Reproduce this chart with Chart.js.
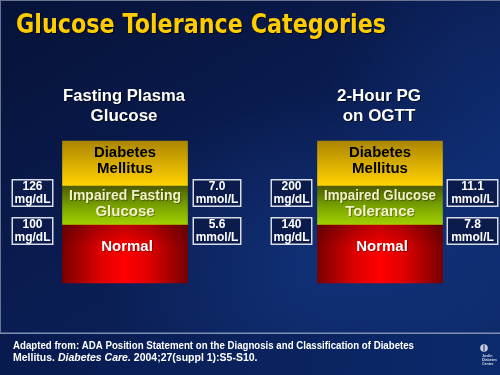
<!DOCTYPE html>
<html><head><meta charset="utf-8">
<script src="https://cdn.jsdelivr.net/npm/chart.js@4/dist/chart.umd.min.js"></script>
<style>
html,body{margin:0;padding:0;width:500px;height:375px;overflow:hidden;background:#0a1a4a;}
#wrap{position:relative;width:500px;height:375px;
background:
 radial-gradient(ellipse 230px 170px at 330px 260px, rgba(22,62,145,0.55), rgba(22,62,145,0) 100%),
 radial-gradient(ellipse 180px 260px at 500px 150px, rgba(18,55,135,0.55), rgba(18,55,135,0)),
 linear-gradient(150deg,#061238 0%,#0a1c50 45%,#0d2865 100%);
}
canvas{position:absolute;left:0;top:0;}
</style></head>
<body><div id="wrap"><canvas id="c" width="500" height="375"></canvas></div>
<script>
// ---- data ----
const categories = ['Fasting Plasma Glucose', '2-Hour PG on OGTT'];
const categoryTitles = [['Fasting Plasma', 'Glucose'], ['2-Hour PG', 'on OGTT']];
const normalBand = [58, 58];
const impairedBand = [39, 39];
const diabetesBand = [45, 45];
const normalLabels = [['Normal'], ['Normal']];
const impairedLabels = [['Impaired Fasting', 'Glucose'], ['Impaired Glucose', 'Tolerance']];
const diabetesLabels = [['Diabetes', 'Mellitus'], ['Diabetes', 'Mellitus']];
const upperMg = ['126', '200'];
const lowerMg = ['100', '140'];
const upperMmol = ['7.0', '11.1'];
const lowerMmol = ['5.6', '7.8'];
const mgUnit = 'mg/dL';
const mmolUnit = 'mmol/L';
const titleText = 'Glucose Tolerance Categories';
const sourceLine1 = 'Adapted from: ADA Position Statement on the Diagnosis and Classification of Diabetes';
const sourceLine2 = ['Mellitus. ', 'Diabetes Care.', ' 2004;27(suppl 1):S5-S10.'];
const logoLines = ['Joslin', 'Diabetes', 'Center'];

const BAR_W = 125;
const SANS = '"Liberation Sans", Arial, sans-serif';

function bandRange(kind, i) {
  if (kind === 0) return [0, normalBand[i]];
  if (kind === 1) return [normalBand[i], normalBand[i] + impairedBand[i]];
  return [normalBand[i] + impairedBand[i], normalBand[i] + impairedBand[i] + diabetesBand[i]];
}

function bandFill(context, kind) {
  const chart = context.chart;
  const x = chart.scales.x, y = chart.scales.y;
  if (!x || !y || context.dataIndex === undefined || !isFinite(x.left)) return '#800';
  const c = chart.ctx;
  const cx = x.getPixelForValue(context.dataIndex);
  const r = bandRange(kind, context.dataIndex);
  const yb = y.getPixelForValue(r[0]), yt = y.getPixelForValue(r[1]);
  let g;
  if (kind === 0) {
    g = c.createLinearGradient(cx - BAR_W / 2, 0, cx + BAR_W / 2, 0);
    g.addColorStop(0, '#7a0000');
    g.addColorStop(0.3, '#dd0000');
    g.addColorStop(0.5, '#ff0000');
    g.addColorStop(0.7, '#dd0000');
    g.addColorStop(1, '#780000');
  } else if (kind === 1) {
    g = c.createLinearGradient(0, yt, 0, yb);
    g.addColorStop(0, '#4c5c00');
    g.addColorStop(0.5, '#78a000');
    g.addColorStop(1, '#a2d200');
  } else {
    g = c.createLinearGradient(0, yt, 0, yb);
    g.addColorStop(0, '#aa8600');
    g.addColorStop(0.55, '#dcb000');
    g.addColorStop(1, '#ffd400');
  }
  return g;
}

function lines(ctx, arr, cx, cy, lh, maxW) {
  const n = arr.length;
  arr.forEach((t, k) => ctx.fillText(t, cx, cy + (k - (n - 1) / 2) * lh, maxW));
}

const decorPlugin = {
  id: 'decor',
  beforeDraw(chart) {
    const c = chart.ctx;
    c.save();
    const fg = c.createLinearGradient(0, 333, 500, 375);
    fg.addColorStop(0, '#081a4e');
    fg.addColorStop(1, '#0c2a6c');
    c.fillStyle = fg;
    c.fillRect(0, 333, 500, 42);
    c.fillStyle = '#7f8fb4';
    c.fillRect(0, 332.5, 500, 1.5);
    c.fillStyle = '#6a7390';
    c.fillRect(0, 0, 500, 1);
    c.fillRect(0, 0, 1, 333);
    c.restore();
  },
  afterDatasetsDraw(chart) {
    const c = chart.ctx;
    const x = chart.scales.x, y = chart.scales.y;
    c.save();
    categories.forEach((_, i) => {
      const cx = x.getPixelForValue(i);
      const r = bandRange(0, i);
      const yt = y.getPixelForValue(r[1]);
      const g = c.createLinearGradient(0, yt, 0, yt + 22);
      g.addColorStop(0, 'rgba(60,0,0,0.35)');
      g.addColorStop(1, 'rgba(60,0,0,0)');
      c.fillStyle = g;
      c.fillRect(cx - BAR_W / 2, yt, BAR_W, 22);
    });
    c.textAlign = 'center';
    c.textBaseline = 'middle';
    categories.forEach((_, i) => {
      const cx = x.getPixelForValue(i);
      let r = bandRange(2, i);
      let mid = (y.getPixelForValue(r[0]) + y.getPixelForValue(r[1])) / 2;
      c.fillStyle = '#000000';
      c.font = 'bold 15px ' + SANS;
      lines(c, diabetesLabels[i], cx, mid - 2.5, 16, 62);
      r = bandRange(1, i);
      mid = (y.getPixelForValue(r[0]) + y.getPixelForValue(r[1])) / 2;
      c.fillStyle = '#f2f0c6';
      c.font = 'bold 15px ' + SANS;
      c.shadowColor = 'rgba(0,0,0,0.35)';
      c.shadowOffsetX = 1; c.shadowOffsetY = 1; c.shadowBlur = 0;
      lines(c, impairedLabels[i], cx, mid - 1.5, 16, 112);
      r = bandRange(0, i);
      mid = (y.getPixelForValue(r[0]) + y.getPixelForValue(r[1])) / 2;
      c.fillStyle = '#ffffff';
      c.font = 'bold 15px ' + SANS;
      lines(c, normalLabels[i], cx + 2, mid - 7, 16, 54);
      c.shadowColor = 'transparent';
    });

    const leftGap = [9, 5], rightGap = [5, 4];
    const leftW = [42, 42], rightW = [49, 52];
    function box(bx, by, w, txt) {
      const h = 28;
      c.fillStyle = '#0b1b4c';
      c.fillRect(bx, by - h / 2, w, h);
      c.strokeStyle = '#d8dce8';
      c.lineWidth = 1.5;
      c.strokeRect(bx + 0.75, by - h / 2 + 0.75, w - 1.5, h - 1.5);
      c.fillStyle = '#ffffff';
      c.font = 'bold 12px ' + SANS;
      c.textAlign = 'center';
      c.textBaseline = 'alphabetic';
      c.fillText(txt[0], bx + w / 2, by - 3, w - 5);
      c.fillText(txt[1], bx + w / 2, by + 9.5, w - 5);
    }
    categories.forEach((_, i) => {
      const cx = x.getPixelForValue(i);
      const bl = cx - BAR_W / 2, br = cx + BAR_W / 2;
      const yUpper = y.getPixelForValue(bandRange(2, i)[0]) + 7;
      const yLower = y.getPixelForValue(bandRange(1, i)[0]) + 6;
      box(bl - leftGap[i] - leftW[i], yUpper, leftW[i], [upperMg[i], mgUnit]);
      box(bl - leftGap[i] - leftW[i], yLower, leftW[i], [lowerMg[i], mgUnit]);
      box(br + rightGap[i], yUpper, rightW[i], [upperMmol[i], mmolUnit]);
      box(br + rightGap[i], yLower, rightW[i], [lowerMmol[i], mmolUnit]);
    });

    c.textAlign = 'center';
    c.textBaseline = 'alphabetic';
    c.fillStyle = '#ffffff';
    c.font = 'bold 17px ' + SANS;
    c.shadowColor = 'rgba(0,0,0,0.6)';
    c.shadowOffsetX = 1; c.shadowOffsetY = 1;
    categories.forEach((_, i) => {
      const cx = x.getPixelForValue(i);
      c.fillText(categoryTitles[i][0], cx - 1, 101, 122);
      c.fillText(categoryTitles[i][1], cx - 1, 121, 122);
    });

    c.textAlign = 'left';
    c.fillStyle = '#ffcc00';
    c.font = 'bold 27px "DejaVu Sans", Verdana, sans-serif';
    c.shadowColor = 'rgba(0,0,0,0.7)';
    c.shadowOffsetX = 1; c.shadowOffsetY = 1;
    c.fillText(titleText, 16, 32.5, 370);

    c.shadowColor = 'transparent';
    c.fillStyle = '#ffffff';
    c.font = 'bold 10.5px ' + SANS;
    c.fillText(sourceLine1, 13, 349, 401);
    let px = 13;
    sourceLine2.forEach((t, k) => {
      c.font = (k === 1 ? 'italic bold ' : 'bold ') + '10.5px ' + SANS;
      c.fillText(t, px, 361);
      px += c.measureText(t).width;
    });

    c.fillStyle = '#c8cfe0';
    c.beginPath();
    c.arc(484, 348, 3.8, 0, Math.PI * 2);
    c.fill();
    c.fillStyle = '#0a1d55';
    c.fillRect(483.5, 345, 1, 6);
    c.fillStyle = '#d8deea';
    c.font = 'bold 3.6px ' + SANS;
    c.textAlign = 'left';
    logoLines.forEach((t, k) => c.fillText(t, 482, 357 + k * 4.2));
    c.restore();
  }
};

new Chart(document.getElementById('c'), {
  type: 'bar',
  data: {
    labels: categories,
    datasets: [
      { label: 'Normal', data: normalBand, backgroundColor: ctx => bandFill(ctx, 0) },
      { label: 'Impaired', data: impairedBand, backgroundColor: ctx => bandFill(ctx, 1) },
      { label: 'Diabetes Mellitus', data: diabetesBand, backgroundColor: ctx => bandFill(ctx, 2) }
    ]
  },
  options: {
    responsive: false,
    animation: false,
    devicePixelRatio: 1,
    layout: { padding: { left: 125, right: 120, top: 141, bottom: 92 } },
    datasets: { bar: { barThickness: BAR_W, borderWidth: 0, clip: false, borderSkipped: false } },
    scales: {
      x: { stacked: true, offset: false, display: false, grid: { display: false } },
      y: { stacked: true, min: 0, max: 142, display: false, grid: { display: false } }
    },
    plugins: { legend: { display: false }, tooltip: { enabled: false }, title: { display: false } }
  },
  plugins: [decorPlugin]
});
</script>
</body></html>
